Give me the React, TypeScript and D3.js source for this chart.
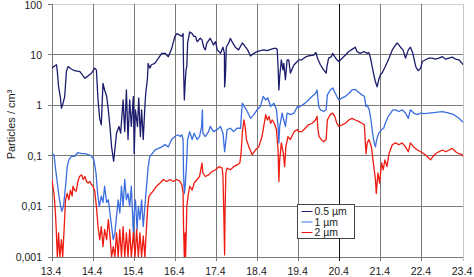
import React from "react";
import * as d3 from "d3";

type Pt = [number, number];

// x: day of April (13 = "13.4"), y: particles / cm³
const pm05: Pt[] = [[13.00,5.4],[13.07,6.0],[13.11,6.3],[13.13,4.6],[13.16,2.3],[13.20,1.5],[13.23,0.87],[13.27,1.1],[13.31,1.5],[13.35,4.6],[13.39,5.8],[13.47,5.2],[13.55,4.8],[13.68,4.6],[13.80,3.4],[13.88,3.8],[13.96,4.3],[14.04,5.4],[14.08,5.0],[14.12,1.27],[14.16,0.55],[14.20,0.41],[14.24,2.7],[14.28,2.0],[14.33,1.5],[14.37,0.81],[14.41,0.38],[14.45,0.15],[14.50,0.078],[14.57,0.28],[14.63,0.38],[14.67,0.28],[14.73,1.27],[14.77,0.30],[14.81,2.0],[14.85,0.21],[14.89,1.27],[14.93,0.38],[14.98,1.5],[15.00,0.11],[15.03,0.81],[15.08,0.38],[15.11,1.4],[15.15,0.24],[15.18,0.81],[15.22,0.21],[15.26,0.94],[15.28,1.7],[15.32,3.2],[15.34,6.7],[15.38,5.4],[15.42,6.3],[15.50,6.7],[15.59,8.5],[15.67,10.6],[15.75,10.6],[15.83,9.1],[15.91,13],[15.99,23],[16.04,26],[16.12,24],[16.16,23],[16.19,26],[16.20,5.8],[16.22,1.27],[16.24,2.7],[16.26,5.0],[16.28,5.8],[16.30,17],[16.35,28],[16.41,26],[16.45,23],[16.49,23],[16.53,18],[16.61,21],[16.65,19.5],[16.69,14],[16.73,12.4],[16.77,17],[16.85,21],[16.89,18],[16.93,15.5],[16.98,18],[17.02,12.4],[17.10,10.6],[17.16,14],[17.195,10.6],[17.20,2.3],[17.22,3.7],[17.24,14],[17.30,17],[17.34,21],[17.38,18],[17.46,14],[17.54,12.4],[17.63,17],[17.71,14],[17.76,12.4],[17.83,9.4],[17.91,10.6],[17.99,11.5],[18.07,12],[18.15,12.4],[18.24,12],[18.32,12.7],[18.40,13.3],[18.46,13.3],[18.48,12.4],[18.50,5.8],[18.52,2.0],[18.54,3.7],[18.58,7.9],[18.62,5.0],[18.64,6.7],[18.68,3.2],[18.72,7.9],[18.76,7.9],[18.80,4.3],[18.85,5.4],[18.89,6.3],[18.97,7.3],[19.00,7.9],[19.08,7.9],[19.16,8.9],[19.24,9.4],[19.37,9.8],[19.42,11],[19.46,8.5],[19.53,6.3],[19.61,5.0],[19.67,4.3],[19.69,5.8],[19.73,8.5],[19.80,9.1],[19.83,10.6],[19.88,9.1],[19.93,7.9],[19.98,7.3],[20.06,8.5],[20.14,9.8],[20.22,11.5],[20.30,12.7],[20.38,14],[20.42,11.5],[20.50,10.6],[20.59,11.5],[20.67,10.6],[20.71,11],[20.75,8.5],[20.79,5.8],[20.83,4.0],[20.87,2.9],[20.91,2.3],[20.95,3.2],[20.99,4.0],[21.03,4.3],[21.07,5.0],[21.11,5.8],[21.20,8.5],[21.28,12.4],[21.36,15.5],[21.40,17],[21.48,14],[21.54,12.4],[21.60,8.5],[21.67,12.4],[21.72,14],[21.78,10.6],[21.85,5.8],[21.91,4.8],[21.97,5.4],[22.01,7.3],[22.09,7.9],[22.17,8.5],[22.25,8.5],[22.33,8.1],[22.41,8.5],[22.50,9.1],[22.58,8.1],[22.66,8.5],[22.74,8.9],[22.82,8.1],[22.90,7.9],[22.98,6.7],[23.00,6.3]];

const pm1: Pt[] = [[13.00,0.11],[13.05,0.105],[13.08,0.061],[13.12,0.034],[13.16,0.018],[13.21,0.010],[13.24,0.008],[13.28,0.010],[13.33,0.025],[13.37,0.061],[13.41,0.083],[13.47,0.097],[13.55,0.097],[13.63,0.116],[13.72,0.11],[13.80,0.11],[13.88,0.105],[13.96,0.10],[14.02,0.083],[14.07,0.046],[14.11,0.018],[14.15,0.010],[14.20,0.016],[14.24,0.012],[14.28,0.025],[14.33,0.012],[14.37,0.0135],[14.41,0.0074],[14.45,0.004],[14.49,0.0022],[14.53,0.003],[14.57,0.0063],[14.61,0.0135],[14.65,0.0074],[14.69,0.025],[14.73,0.010],[14.77,0.034],[14.81,0.0135],[14.85,0.018],[14.89,0.010],[14.93,0.025],[14.98,0.003],[15.00,0.0074],[15.03,0.0135],[15.07,0.0035],[15.10,0.010],[15.14,0.0055],[15.18,0.0135],[15.22,0.004],[15.26,0.010],[15.30,0.025],[15.34,0.061],[15.38,0.097],[15.42,0.105],[15.50,0.13],[15.59,0.14],[15.67,0.15],[15.75,0.166],[15.83,0.15],[15.91,0.21],[15.99,0.24],[16.06,0.26],[16.12,0.24],[16.16,0.26],[16.19,0.21],[16.20,0.046],[16.22,0.018],[16.24,0.025],[16.27,0.061],[16.30,0.21],[16.35,0.30],[16.41,0.21],[16.46,0.28],[16.53,0.21],[16.59,0.24],[16.64,0.38],[16.66,0.81],[16.67,0.28],[16.73,0.24],[16.81,0.30],[16.85,0.38],[16.93,0.30],[17.02,0.33],[17.10,0.38],[17.16,0.28],[17.20,0.12],[17.26,0.33],[17.34,0.35],[17.42,0.30],[17.50,0.35],[17.59,0.35],[17.60,0.51],[17.63,1.1],[17.68,0.94],[17.75,0.75],[17.83,0.55],[17.91,0.65],[17.99,0.81],[18.07,0.94],[18.14,1.5],[18.20,1.27],[18.25,1.4],[18.32,0.94],[18.40,1.1],[18.46,0.81],[18.50,0.38],[18.52,0.18],[18.54,0.38],[18.60,0.70],[18.64,0.51],[18.68,0.38],[18.72,0.70],[18.80,0.65],[18.89,0.70],[18.97,0.94],[19.00,0.9],[19.08,1.0],[19.16,1.1],[19.24,1.27],[19.33,1.5],[19.41,1.7],[19.45,2.0],[19.49,0.94],[19.53,0.81],[19.61,0.75],[19.67,0.81],[19.70,1.6],[19.77,2.0],[19.83,2.2],[19.88,1.8],[19.93,1.5],[19.98,1.27],[20.06,1.4],[20.14,1.5],[20.22,1.7],[20.30,2.0],[20.38,2.05],[20.46,1.8],[20.54,1.6],[20.60,1.5],[20.64,0.94],[20.67,1.0],[20.72,0.81],[20.76,0.51],[20.80,0.28],[20.84,0.18],[20.87,0.15],[20.90,0.21],[20.95,0.28],[21.02,0.33],[21.07,0.35],[21.11,0.44],[21.18,0.60],[21.24,0.70],[21.29,0.81],[21.36,0.81],[21.44,0.75],[21.52,0.81],[21.60,0.70],[21.67,0.55],[21.72,0.81],[21.80,0.70],[21.89,0.65],[21.97,0.70],[22.05,0.68],[22.17,0.70],[22.33,0.72],[22.50,0.75],[22.66,0.70],[22.78,0.65],[22.90,0.55],[22.98,0.48],[23.00,0.46]];

const pm2: Pt[] = [[13.00,0.034],[13.02,0.025],[13.05,0.018],[13.08,0.0085],[13.10,0.004],[13.13,0.001],[13.16,0.003],[13.19,0.001],[13.23,0.0022],[13.26,0.001],[13.29,0.003],[13.31,0.0063],[13.33,0.0135],[13.37,0.018],[13.41,0.0135],[13.45,0.021],[13.49,0.016],[13.51,0.025],[13.55,0.021],[13.59,0.02],[13.63,0.031],[13.67,0.039],[13.72,0.042],[13.76,0.034],[13.80,0.039],[13.84,0.031],[13.88,0.029],[13.92,0.031],[13.96,0.027],[14.00,0.025],[14.04,0.020],[14.08,0.010],[14.12,0.004],[14.16,0.0022],[14.20,0.004],[14.24,0.0016],[14.28,0.0035],[14.33,0.0022],[14.37,0.0055],[14.41,0.0026],[14.45,0.001],[14.49,0.0016],[14.53,0.001],[14.57,0.003],[14.61,0.001],[14.65,0.0035],[14.69,0.001],[14.73,0.004],[14.77,0.001],[14.81,0.003],[14.85,0.001],[14.89,0.0035],[14.93,0.001],[14.98,0.003],[15.02,0.001],[15.06,0.0035],[15.10,0.001],[15.14,0.003],[15.18,0.001],[15.22,0.0026],[15.26,0.001],[15.30,0.004],[15.33,0.010],[15.36,0.016],[15.41,0.018],[15.46,0.020],[15.54,0.025],[15.63,0.029],[15.71,0.034],[15.79,0.031],[15.87,0.034],[15.95,0.031],[16.03,0.034],[16.10,0.032],[16.16,0.027],[16.19,0.018],[16.20,0.004],[16.22,0.001],[16.24,0.003],[16.25,0.001],[16.27,0.004],[16.28,0.010],[16.31,0.016],[16.35,0.025],[16.41,0.021],[16.46,0.029],[16.53,0.034],[16.59,0.039],[16.65,0.072],[16.67,0.046],[16.73,0.039],[16.81,0.042],[16.89,0.049],[16.98,0.053],[17.06,0.061],[17.14,0.057],[17.16,0.039],[17.18,0.0074],[17.20,0.0011],[17.21,0.0074],[17.23,0.046],[17.26,0.057],[17.34,0.053],[17.42,0.061],[17.50,0.066],[17.57,0.072],[17.60,0.11],[17.63,0.28],[17.67,0.51],[17.70,0.38],[17.73,0.21],[17.79,0.15],[17.87,0.105],[17.95,0.13],[18.03,0.15],[18.11,0.24],[18.20,0.65],[18.24,0.51],[18.28,0.60],[18.32,0.44],[18.36,0.51],[18.41,0.44],[18.46,0.33],[18.50,0.13],[18.52,0.031],[18.54,0.083],[18.58,0.18],[18.63,0.11],[18.66,0.061],[18.69,0.15],[18.74,0.24],[18.80,0.21],[18.89,0.30],[18.97,0.33],[19.00,0.30],[19.08,0.30],[19.16,0.35],[19.24,0.41],[19.33,0.44],[19.41,0.51],[19.45,0.60],[19.47,0.33],[19.50,0.24],[19.55,0.21],[19.61,0.19],[19.67,0.21],[19.70,0.51],[19.77,0.65],[19.83,0.70],[19.88,0.60],[19.93,0.44],[19.98,0.38],[20.06,0.41],[20.14,0.44],[20.22,0.51],[20.30,0.55],[20.38,0.51],[20.46,0.48],[20.54,0.44],[20.60,0.41],[20.64,0.11],[20.67,0.18],[20.71,0.21],[20.77,0.15],[20.83,0.061],[20.87,0.034],[20.89,0.018],[20.93,0.046],[20.97,0.029],[21.02,0.072],[21.06,0.053],[21.10,0.083],[21.15,0.061],[21.20,0.11],[21.28,0.165],[21.36,0.18],[21.44,0.165],[21.52,0.18],[21.60,0.15],[21.67,0.12],[21.72,0.18],[21.80,0.15],[21.89,0.13],[21.97,0.12],[22.05,0.11],[22.13,0.097],[22.21,0.083],[22.27,0.097],[22.33,0.11],[22.41,0.12],[22.50,0.13],[22.58,0.12],[22.66,0.13],[22.74,0.14],[22.82,0.12],[22.90,0.11],[22.98,0.105],[23.00,0.097]];

const dayTicks = [13, 14, 15, 16, 17, 18, 19, 20, 21, 22, 23];
const yTicks = [100, 10, 1, 0.1, 0.01, 0.001];
const yTickLabels = ["100", "10", "1", "0,1", "0,01", "0,001"];
const seriesNames = ["0.5 µm", "1 µm", "2 µm"];
const seriesColors = ["#1c1c6e", "#3a6ee0", "#ee1c10"];
const yTitle = "Particles / cm³";

const W = 474, H = 277;
const L = 52, R = 463, T = 4, B = 257;
const FONT = "'Liberation Sans', Arial, sans-serif";

export default function App() {
  const x = d3.scaleLinear().domain([13, 23]).range([L, R]);
  const y = d3.scaleLog().domain([0.001, 100]).range([B, T]).clamp(true);
  const line = d3.line<Pt>().x(d => x(d[0])).y(d => y(d[1]));
  const series = [pm05, pm1, pm2];

  return (
    <svg width={W} height={H} style={{ position: "absolute", left: 0, top: 0, background: "#fff" }} fontFamily={FONT}>
      <defs>
        <clipPath id="plot"><rect x={L} y={T} width={R - L} height={B - T} /></clipPath>
      </defs>
      {yTicks.map((v, i) => (
        <line key={"h" + i} x1={L} x2={R} y1={y(v)} y2={y(v)}
          stroke={v === 100 ? "#cfcfcf" : "#7a7a7a"} strokeWidth={1} shapeRendering="crispEdges" />
      ))}
      {dayTicks.map((d, i) => (
        <line key={"v" + i} x1={x(d)} x2={x(d)} y1={T} y2={B + 4}
          stroke={d === 20 ? "#111" : d === 23 ? "#c4c4c4" : "#7a7a7a"} strokeWidth={1} shapeRendering="crispEdges" />
      ))}
      {yTicks.map((v, i) => (
        <line key={"yt" + i} x1={L - 4} x2={L} y1={y(v)} y2={y(v)} stroke="#7a7a7a" shapeRendering="crispEdges" />
      ))}
      <line x1={L} x2={L} y1={T} y2={B} stroke="#7a7a7a" shapeRendering="crispEdges" />
      <g clipPath="url(#plot)">
        {series.map((s, i) => (
          <path key={"s" + i} d={line(s) || ""} fill="none" stroke={seriesColors[i]} strokeWidth={1.3} strokeLinejoin="round" />
        ))}
      </g>
      {yTicks.map((v, i) => (
        <text key={"yl" + i} x={L - 10} y={Math.max(y(v) + 4, 9)} textAnchor="end" fontSize={10.5} fill="#222">{yTickLabels[i]}</text>
      ))}
      {dayTicks.map((d, i) => (
        <text key={"xl" + i} x={x(d) - 1} y={275} textAnchor="middle" fontSize={10.5} fill="#222">{`${d}.4`}</text>
      ))}
      <text transform={`translate(15,${(T + B) / 2 - 6}) rotate(-90)`} textAnchor="middle" fontSize={11} fill="#222">{yTitle}</text>
      <g transform="translate(297.5,204.5)">
        <rect x={0} y={0} width={57} height={34} fill="#fff" stroke="#444" strokeWidth={1} />
        {seriesNames.map((n, i) => (
          <g key={"lg" + i} transform={`translate(0,${7 + i * 10.5})`}>
            <line x1={4} x2={15} y1={0} y2={0} stroke={seriesColors[i]} strokeWidth={1} />
            <text x={17} y={3.8} fontSize={10.5} fill="#222">{n}</text>
          </g>
        ))}
      </g>
    </svg>
  );
}
